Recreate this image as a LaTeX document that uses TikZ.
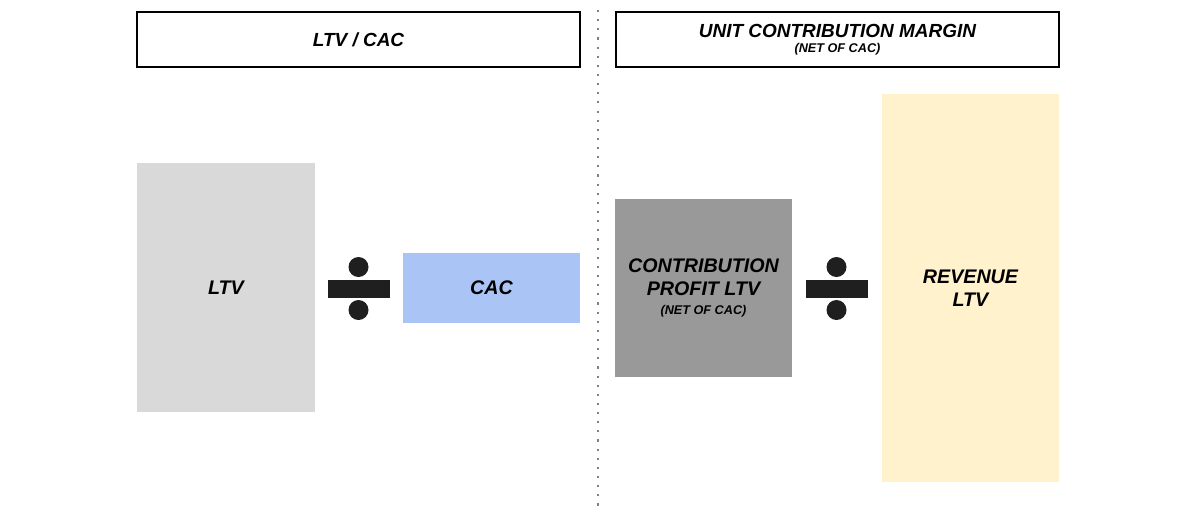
\documentclass[tikz,border=0pt]{standalone}
\usepackage{fontspec}
\setmainfont{Liberation Sans}
\usetikzlibrary{positioning}
\definecolor{ltvgray}{HTML}{D9D9D9}
\definecolor{cacblue}{HTML}{A9C4F5}
\definecolor{profitgray}{HTML}{999999}
\definecolor{revyellow}{HTML}{FFF2CC}
\tikzset{
    title/.style={draw=black, line width=0.6pt, minimum width=4.43cm, minimum height=0.55cm, font=\fontsize{5.4}{6.2}\selectfont\bfseries\itshape, align=center},
    block/.style={minimum width=1.77cm, font=\fontsize{5.6}{6.5}\selectfont\bfseries\itshape, align=center, inner sep=0pt},
    divsign/.pic={
        \fill[black!88] (0,0.22) circle(0.1);
        \fill[black!88] (0,-0.21) circle(0.1);
        \fill[black!88] (-0.31,-0.09) rectangle (0.31,0.09);
    }
}
\newcommand{\smalltxt}[1]{{\fontsize{3.6}{4.5}\selectfont #1}}
\begin{document}
\begin{tikzpicture}
    \useasboundingbox (0,0) rectangle (12,-5.1);

    % headers
    \node[title] (ltvcac) at (3.585,-0.395) {LTV / CAC};
    \node[title, inner ysep=0.5pt] (ucm) at (8.375,-0.395) {UNIT CONTRIBUTION MARGIN\\[-2pt]\smalltxt{(NET OF CAC)}};

    % divider
    \draw[gray, dotted, line width=0.6pt] (5.98,-0.1) -- (5.98,-5.08);

    % left side
    \node[block, fill=ltvgray, minimum height=2.49cm] (ltv) at (2.26,-2.875) {LTV};
    \pic at (3.585,-2.89) {divsign};
    \node[block, fill=cacblue, minimum height=0.70cm] (cac) at (4.915,-2.88) {CAC};

    % right side
    \node[block, fill=profitgray, minimum height=1.78cm] (profit) at (7.035,-2.88) {CONTRIBUTION\\PROFIT LTV\\[-1pt]\smalltxt{(NET OF CAC)}};
    \pic at (8.365,-2.89) {divsign};
    \node[block, fill=revyellow, minimum height=3.88cm] (revenue) at (9.705,-2.88) {REVENUE\\LTV};
\end{tikzpicture}
\end{document}
